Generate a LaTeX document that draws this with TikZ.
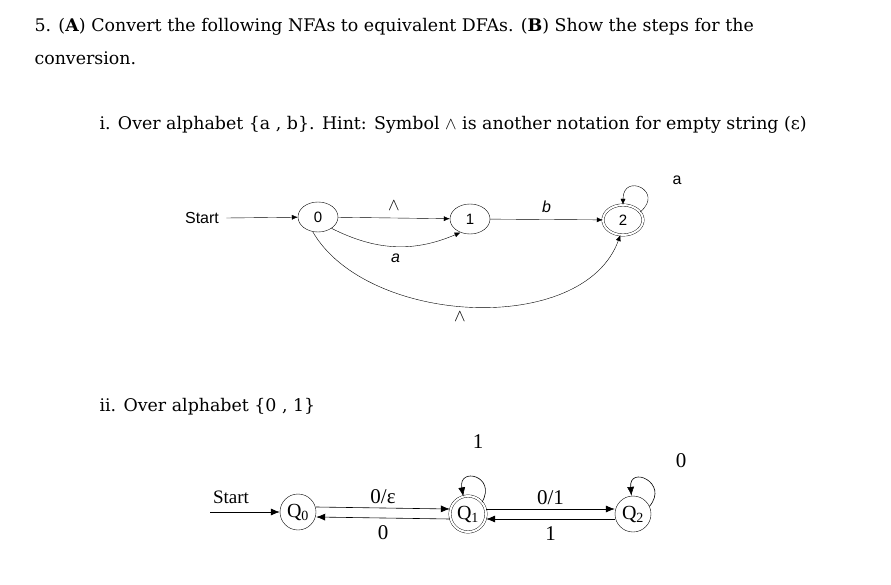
\documentclass[tikz,border=0pt]{standalone}
\usepackage{fontspec}
\setmainfont{DejaVu Serif}
\newfontfamily\sff{Liberation Sans}
\newfontfamily\tnr{Liberation Serif}
\usetikzlibrary{arrows.meta,shapes.geometric}
\begin{document}
\begin{tikzpicture}[x=1pt,y=-1pt,
  st/.style={draw,ellipse,minimum width=40pt,minimum height=30pt,inner sep=0pt,font=\sff\fontsize{15}{15}\selectfont},
  acc/.style={st,double,double distance=2pt},
  st2/.style={draw,circle,minimum size=36pt,inner sep=0pt,font=\tnr\fontsize{20}{20}\selectfont},
  acc2/.style={st2,double,double distance=2pt},
  ar/.style={-{Latex[length=6pt,width=5pt]},thin},
  ar2/.style={-{Latex[length=9pt,width=7pt]},semithick},
  lb/.style={font=\sff\fontsize{16}{16}\selectfont},
  lb2/.style={font=\tnr\fontsize{21}{21}\selectfont},
  tx/.style={anchor=west,font=\fontsize{17.4}{17.4}\selectfont}]
\useasboundingbox (0,0) rectangle (891,585);
\node[tx] (t1) at (31,27) {5. (\textbf{A}) Convert the following NFAs to equivalent DFAs. (\textbf{B}) Show the steps for the};
\node[tx] (t2) at (31,58) {conversion.};
\node[tx] (t3) at (96,125) {i. Over alphabet \{a , b\}. Hint: Symbol \textbf{$\wedge$} is another notation for empty string (ε)};
\node[tx] (t4) at (96,407) {ii. Over alphabet \{0 , 1\}};
% graph 1
\node[lb] (s1) at (202,218) {Start};
\node[st] (n0) at (318,217) {0};
\node[st] (n1) at (470,219) {1};
\node[acc] (n2) at (623,220) {2};
\draw[ar] (s1.east) ++(4,0) coordinate (s1e) -- (n0);
\draw[ar] (n0) -- node[lb,above=4pt]{$\wedge$} (n1);
\draw[ar] (n1) -- node[lb,above=3pt]{\itshape b} (n2);
\draw[ar] (n0.-40) to[bend right=25] node[lb,below=4pt]{\itshape a} (n1.-125);
\draw[ar] (n0.-110) to[out=-60,in=-110,looseness=0.9] (n2.-100);
\node[lb] (l3) at (460,317) {$\wedge$};
\draw[ar] (n2.25) to[out=40,in=90,looseness=4.5] (n2.north);
\node[lb] (l4) at (677,180) {a};
% graph 2
\node[font=\tnr\fontsize{19}{19}\selectfont] (s2) at (231,497) {Start};
\node[st2] (q0) at (298,512) {Q\textsubscript{0}};
\node[acc2] (q1) at (468,514) {Q\textsubscript{1}};
\node[st2] (q2) at (633,514) {Q\textsubscript{2}};
\coordinate (sa) at (210,512);
\draw[ar2] (sa) -- (q0);
\draw[ar2] ([yshift=5]q0.east) -- node[lb2,above=1pt]{0/ε} ([yshift=5]q1.west);
\draw[ar2] ([yshift=-5]q1.west) -- node[lb2,below=4pt]{0} ([yshift=-5]q0.east);
\draw[ar2] ([yshift=5]q1.east) -- node[lb2,above=1pt]{0/1} ([yshift=5]q2.west);
\draw[ar2] ([yshift=-5]q2.west) -- node[lb2,below=4pt]{1} ([yshift=-5]q1.east);
\draw[ar2] (q1.40) to[out=60,in=100,looseness=4] (q1.105);
\node[lb2] (l1) at (478,442) {1};
\draw[ar2] (q2.25) to[out=50,in=95,looseness=3.8] (q2.95);
\node[lb2] (l0) at (681,461) {0};
\end{tikzpicture}
\end{document}
